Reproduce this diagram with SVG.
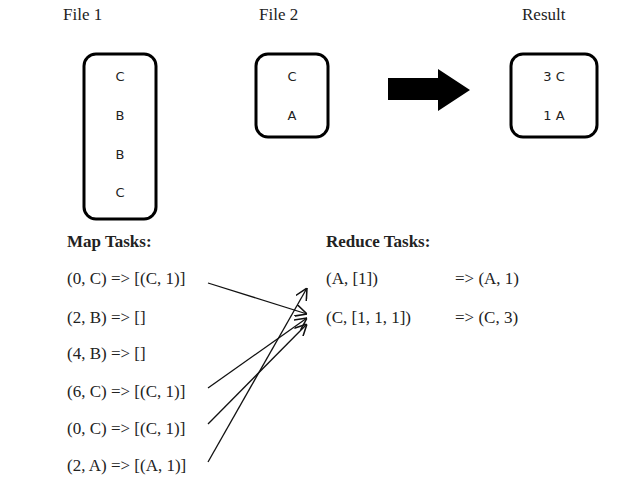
<svg xmlns="http://www.w3.org/2000/svg" width="638" height="478" viewBox="0 0 638 478">
<style>
.t{font-family:"Liberation Serif",serif;font-size:17px;fill:#222}
.b{font-weight:bold}
.s{font-family:"DejaVu Sans","Liberation Sans",sans-serif;font-size:13px;fill:#222;text-anchor:middle}
.box{fill:#fff;stroke:#000;stroke-width:3}
.c{stroke:#111;stroke-width:1.3;fill:none;marker-end:url(#h)}
</style>
<defs><marker id="h" viewBox="0 0 10 10" refX="10" refY="5" markerWidth="12" markerHeight="12" markerUnits="userSpaceOnUse" orient="auto"><path d="M0,0 L10,5 L0,10" fill="none" stroke="#111" stroke-width="1.3"/></marker></defs>
<rect width="638" height="478" fill="#fff"/>
<text class="t" x="63" y="20">File 1</text>
<text class="t" x="259" y="20">File 2</text>
<text class="t" x="522" y="20">Result</text>
<g id="file1"><rect class="box" x="84" y="54" width="72" height="165" rx="12"/>
<text class="s" x="120" y="81">C</text><text class="s" x="120" y="120">B</text><text class="s" x="120" y="159">B</text><text class="s" x="120" y="197">C</text></g>
<g id="file2"><rect class="box" x="256" y="54" width="72" height="83" rx="12"/>
<text class="s" x="292" y="81">C</text><text class="s" x="292" y="120">A</text></g>
<g id="result"><rect class="box" x="511" y="54" width="86" height="83" rx="12"/>
<text class="s" x="554" y="81">3 C</text><text class="s" x="554" y="120">1 A</text></g>
<g id="bigarrow"><polygon points="388,78 438,78 438,69 470,90 438,111 438,100 388,100" fill="#000"/></g>
<g id="map"><text class="t b" x="67" y="247">Map Tasks:</text>
<text class="t" x="67" y="284">(0, C) =&gt; [(C, 1)]</text>
<text class="t" x="67" y="323">(2, B) =&gt; []</text>
<text class="t" x="67" y="359">(4, B) =&gt; []</text>
<text class="t" x="67" y="397">(6, C) =&gt; [(C, 1)]</text>
<text class="t" x="67" y="434">(0, C) =&gt; [(C, 1)]</text>
<text class="t" x="67" y="471">(2, A) =&gt; [(A, 1)]</text></g>
<g id="reduce"><text class="t b" x="326" y="247">Reduce Tasks:</text>
<text class="t" x="326" y="284">(A, [1])</text>
<text class="t" x="455" y="284">=&gt; (A, 1)</text>
<text class="t" x="326" y="323">(C, [1, 1, 1])</text>
<text class="t" x="455" y="323">=&gt; (C, 3)</text></g>
<g id="connectors">
<line class="c" x1="208" y1="283" x2="307" y2="314"/>
<line class="c" x1="208" y1="388" x2="307" y2="318"/>
<line class="c" x1="208" y1="424" x2="307" y2="324"/>
<line class="c" x1="208" y1="462" x2="307" y2="288"/>
</g>
</svg>
